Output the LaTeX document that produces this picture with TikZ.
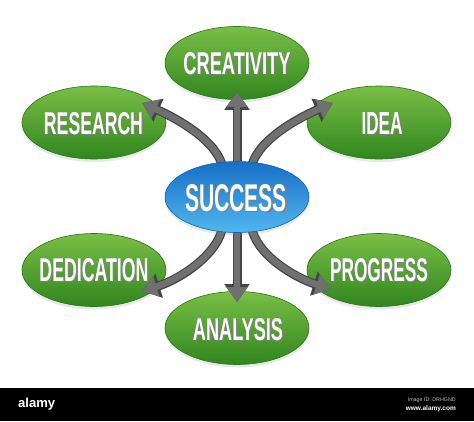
\documentclass[tikz,border=0pt]{standalone}
\usepackage{fontspec}
\setmainfont{Liberation Sans}
\usepackage{graphicx}
\usetikzlibrary{shapes.geometric,arrows.meta,shadows}
\pgfdeclarelayer{bg}\pgfdeclarelayer{mid}\pgfsetlayers{bg,mid,main}
\definecolor{gTop}{RGB}{122,190,70}
\definecolor{gBot}{RGB}{48,134,30}
\definecolor{gEdge}{RGB}{42,118,26}
\definecolor{bTop}{RGB}{24,112,198}
\definecolor{bBot}{RGB}{80,182,238}
\definecolor{bEdge}{RGB}{22,98,172}
\definecolor{arrGray}{RGB}{112,112,112}
\definecolor{arrDark}{RGB}{70,70,70}
\newcommand\lbltext[3]{\makebox[0pt][l]{\raisebox{-1.2pt}{\hspace{1.2pt}\textcolor{black!50}{\resizebox{#1}{#2}{\bfseries #3}}}}\textcolor{white}{\resizebox{#1}{#2}{\bfseries #3}}}
\begin{document}
\begin{tikzpicture}[x=1pt,y=-1pt,
  greenell/.style={ellipse, minimum width=144pt, minimum height=73pt, inner sep=0pt,
    top color=gTop, bottom color=gBot, draw=gEdge, line width=0.6pt,
    drop shadow={opacity=0.18, shadow xshift=0pt, shadow yshift=-3pt}},
  blueell/.style={ellipse, minimum width=144pt, minimum height=71pt, inner sep=0pt,
    top color=bTop, bottom color=bBot, draw=bEdge, line width=0.6pt,
    drop shadow={opacity=0.18, shadow xshift=0pt, shadow yshift=-3pt}},
  lbl/.style={inner sep=0pt, anchor=center},
  arrout/.style={draw=arrDark, line width=9pt, -{Triangle[width=24pt,length=18pt]}},
  arr/.style={draw=arrGray, line width=6.5pt, -{Triangle[width=20pt,length=15pt]}},
  bartext/.style={inner sep=0pt, text=white}]
\useasboundingbox (0,0) rectangle (474,421);
\begin{pgfonlayer}{bg}
\fill[white] (0,0) rectangle (474,421);
\node[greenell] (cre) at (237,63) {};
\node[greenell] (res) at (94,122.5) {};
\node[greenell] (ide) at (379,122.5) {};
\node[greenell] (ded) at (94,270) {};
\node[greenell] (pro) at (379,270) {};
\node[greenell] (ana) at (237,328) {};
\end{pgfonlayer}
\node[blueell] (suc) at (237,197) {};
\begin{pgfonlayer}{mid}
\foreach \st in {arrout,arr}{
\draw[\st] (suc.north) -- ([yshift=8pt]cre.south);
\draw[\st] (suc.south) -- ([yshift=-11pt]ana.north);
\draw[\st] ([shift={(-14,-28)}]suc.center) .. controls (219,142) and (178,119) .. ([shift={(48,-19.5)}]res.center);
\draw[\st] ([shift={(14,-28)}]suc.center) .. controls (255,142) and (296,119) .. ([shift={(-46,-19.5)}]ide.center);
\draw[\st] ([shift={(-14,28)}]suc.center) .. controls (219,255) and (178,280) .. ([shift={(48,21)}]ded.center);
\draw[\st] ([shift={(14,28)}]suc.center) .. controls (255,255) and (296,278) .. ([shift={(-48,19)}]pro.center);
}
\end{pgfonlayer}
\node[lbl] (creT) at (237,64) {\lbltext{107pt}{22pt}{CREATIVITY}};
\node[lbl] (resT) at (93.5,124) {\lbltext{99pt}{22pt}{RESEARCH}};
\node[lbl] (ideT) at (382,124) {\lbltext{41pt}{22pt}{IDEA}};
\node[lbl] (sucT) at (236,199) {\lbltext{102pt}{27pt}{SUCCESS}};
\node[lbl] (dedT) at (94,271) {\lbltext{109pt}{23pt}{DEDICATION}};
\node[lbl] (proT) at (379,271) {\lbltext{98pt}{23pt}{PROGRESS}};
\node[lbl] (anaT) at (238,330) {\lbltext{90pt}{22pt}{ANALYSIS}};
% bottom bar
\fill[black] (0,388) rectangle (474,421);
\node[bartext, anchor=west] (alamy) at (18,404) {\resizebox{37pt}{!}{\bfseries alamy}};
\node[bartext, anchor=east, text=white!75!black] (imgid) at (456,400) {\resizebox{48pt}{!}{Image ID: DRHGND}};
\node[bartext, anchor=east] (www) at (456,408.5) {\resizebox{50pt}{!}{\bfseries www.alamy.com}};
\end{tikzpicture}
\end{document}
